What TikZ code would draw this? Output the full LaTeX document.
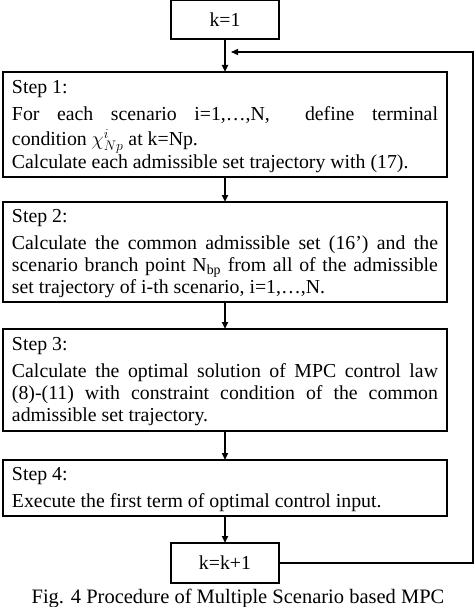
\RequirePackage{fix-cm}
\documentclass[tikz,border=0pt]{standalone}
\usepackage{fontspec}
\setmainfont{Liberation Serif}
\usetikzlibrary{arrows.meta, positioning}
\newcommand{\steptitle}[1]{\rule{0pt}{17pt}Step #1:\\[5pt]}
\tikzset{
  kbox/.style={rectangle, draw, line width=1.6pt, outer sep=0pt,
    minimum width=108pt, minimum height=39pt, inner sep=0pt,
    font=\fontsize{19.8}{22}\selectfont},
  stepbox/.style={rectangle, draw, line width=1.6pt, outer sep=0pt,
    minimum width=444pt, text width=426pt, inner xsep=9pt, inner ysep=3.5pt,
    align=justify, font=\fontsize{19.8}{22}\selectfont},
  flowarr/.style={-{Triangle[length=7pt,width=6pt]}, line width=1.8pt},
  backarr/.style={-{Triangle[length=7pt,width=6pt]}, line width=1.2pt},
  capt/.style={font=\fontsize{20.5}{24}\selectfont, anchor=base},
}
\begin{document}
\begin{tikzpicture}[x=1pt, y=1pt]
  \useasboundingbox (0,0) rectangle (474,-607);
  \clip (0,0) rectangle (474,-607);
  %% Start
  \node[kbox] (k1) at (225,-19.5) {k=1};
  %% Steps
  \node[stepbox, minimum height=105pt, below=33pt of k1] (s1)
        {\steptitle{1}
         For each scenario i=1,\dots,N,\ \ define terminal\vadjust{\vskip 3pt}\linebreak
         condition $\chi^{i}_{Np}$ at k=Np.\\[1pt]
         Calculate each admissible set trajectory with (17).};
  \node[stepbox, minimum height=100pt, below=25pt of s1] (s2)
        {\steptitle{2}
         Calculate the common admissible set (16’) and the\linebreak
         scenario branch point N\textsubscript{bp} from all of the admissible\linebreak
         set trajectory of i-th scenario, i=1,\dots,N.};
  \node[stepbox, minimum height=102pt, below=27pt of s2] (s3)
        {\steptitle{3}
         Calculate the optimal solution of MPC control law\linebreak
         (8)-(11) with constraint condition of the common\linebreak
         admissible set trajectory.};
  \node[stepbox, minimum height=56pt, below=29pt of s3] (s4)
        {\steptitle{4}
         Execute the first term of optimal control input.};
  %% Update
  \node[kbox, minimum height=40pt, below=27pt of s4] (k2) {k=k+1};
  %% Caption
  \node[capt] (cap) at (238,-603) {Fig. 4 Procedure of Multiple Scenario based MPC};
  %% Arrows
  \draw[flowarr] (k1) -- (s1);
  \draw[flowarr] (s1) -- (s2);
  \draw[flowarr] (s2) -- (s3);
  \draw[flowarr] (s3) -- (s4);
  \draw[flowarr] (s4) -- (k2);
  %% Feedback loop
  \coordinate (corner) at (473,-52);
  \coordinate (join) at (231,-52);
  \draw[backarr] (k2.east) -| (corner) -- (join);
\end{tikzpicture}
\end{document}
